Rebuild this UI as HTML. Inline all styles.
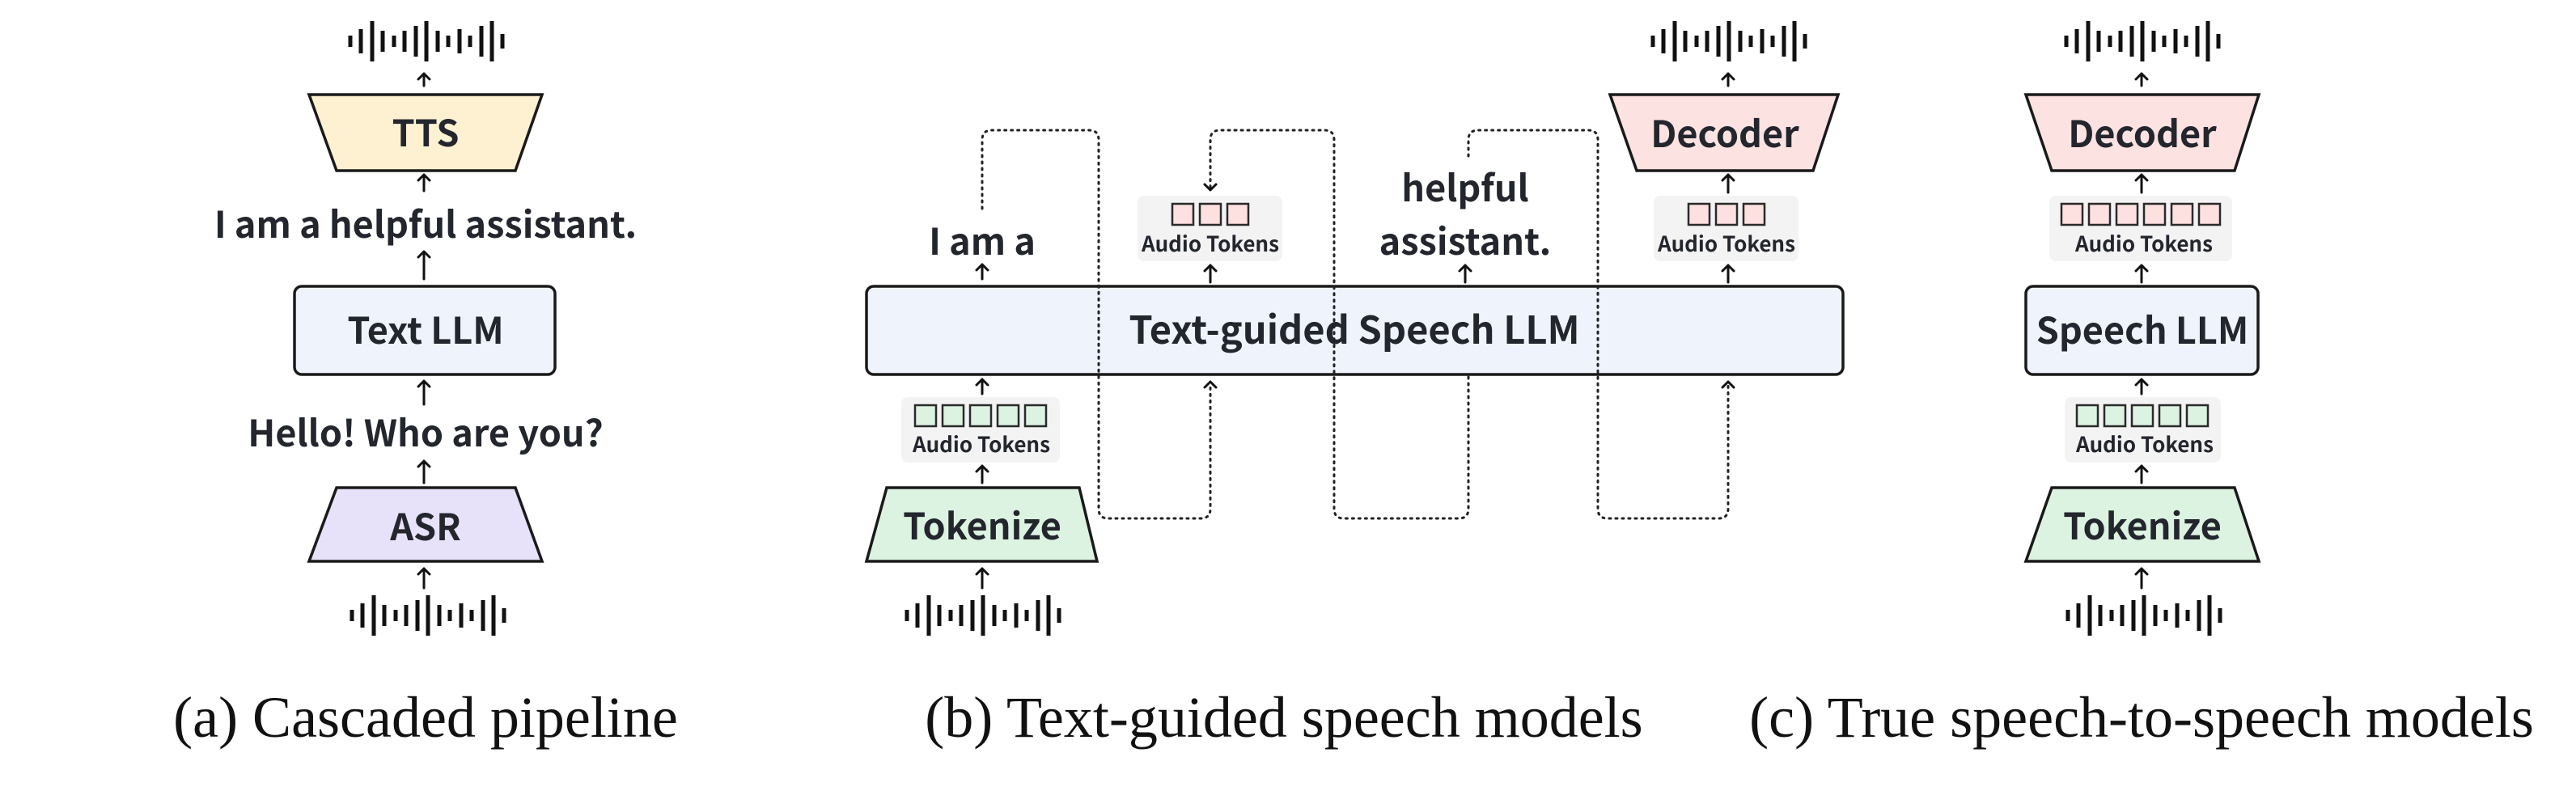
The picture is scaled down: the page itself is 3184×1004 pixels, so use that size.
<!DOCTYPE html>
<html><head><meta charset="utf-8"><style>
html,body{margin:0;padding:0;background:#fff;}
svg{display:block;}
.lb{font-family:"Noto Sans CJK SC","Liberation Sans",sans-serif;font-weight:700;fill:#23262d;text-anchor:middle;}
.cap{font-family:"Liberation Serif",serif;font-size:72px;fill:#111;text-anchor:middle;}
.ar{fill:none;stroke:#111;stroke-width:3;stroke-linecap:round;stroke-linejoin:round;}
.dt{fill:none;stroke:#222;stroke-width:3;stroke-dasharray:2 6;stroke-linecap:round;}
.bx{stroke:#1a1a1a;stroke-width:3.5;}
.sq{stroke:#2a2a2a;stroke-width:2.5;}
</style></head><body>
<svg width="3184" height="1004" viewBox="0 0 3184 1004" xmlns="http://www.w3.org/2000/svg">
<defs>
<g id="wv" stroke="#111" stroke-width="5">
<line x1="3" y1="20" x2="3" y2="34"/><line x1="16" y1="12" x2="16" y2="42"/><line x1="30" y1="2" x2="30" y2="52"/><line x1="43" y1="14" x2="43" y2="40"/><line x1="57" y1="20" x2="57" y2="34"/><line x1="70" y1="14" x2="70" y2="40"/><line x1="84" y1="8" x2="84" y2="46"/><line x1="97" y1="2" x2="97" y2="52"/><line x1="111" y1="14" x2="111" y2="40"/><line x1="124" y1="20" x2="124" y2="34"/><line x1="138" y1="12" x2="138" y2="42"/><line x1="151" y1="20" x2="151" y2="34"/><line x1="165" y1="8" x2="165" y2="46"/><line x1="178" y1="2" x2="178" y2="52"/><line x1="191" y1="18" x2="191" y2="36"/>
</g>
</defs>

<!-- Panel A -->
<use href="#wv" x="430" y="24"/>
<path class="ar" d="M524 106 V91 M517 98 L524 91 L531 98"/>
<polygon class="bx" points="382,117 670,117 637,211 416,211" fill="#fdf1d1"/>
<text class="lb" x="526" y="181" font-size="45">TTS</text>
<path class="ar" d="M524 236 V216 M517 223 L524 216 L531 223"/>
<text class="lb" x="526" y="294" font-size="45">I am a helpful assistant.</text>
<path class="ar" d="M524 345 V311 M517 318 L524 311 L531 318"/>
<rect class="bx" x="364" y="354" width="322" height="109" rx="9" fill="#eef3fc"/>
<text class="lb" x="526" y="425" font-size="45">Text LLM</text>
<path class="ar" d="M524 500 V471 M517 478 L524 471 L531 478"/>
<text class="lb" x="526" y="552" font-size="45">Hello! Who are you?</text>
<path class="ar" d="M524 597 V570 M517 577 L524 570 L531 577"/>
<polygon class="bx" points="416,603 637,603 670,694 382,694" fill="#e8e1fa"/>
<text class="lb" x="526" y="668" font-size="45">ASR</text>
<path class="ar" d="M524 727 V703 M517 710 L524 703 L531 710"/>
<use href="#wv" x="432" y="734"/>
<text class="cap" x="526" y="911">(a) Cascaded pipeline</text>

<!-- Panel B -->
<rect class="bx" x="1071" y="354" width="1207" height="109" rx="9" fill="#eef3fc"/>
<text class="lb" x="1674" y="425" font-size="47">Text-guided Speech LLM</text>

<text class="lb" x="1214" y="315" font-size="45">I am a</text>
<path class="ar" d="M1214 345 V327 M1207 334 L1214 327 L1221 334"/>
<path class="ar" d="M1214 487 V469 M1207 476 L1214 469 L1221 476"/>
<rect x="1114" y="491" width="196" height="81" rx="8" fill="#f3f3f3"/>
<g class="sq" fill="#dcf3e1"><rect x="1131" y="501" width="26" height="26"/><rect x="1165" y="501" width="26" height="26"/><rect x="1199" y="501" width="26" height="26"/><rect x="1233" y="501" width="26" height="26"/><rect x="1267" y="501" width="26" height="26"/></g>
<text class="lb" x="1213" y="559" font-size="26">Audio Tokens</text>
<path class="ar" d="M1214 597 V576 M1207 583 L1214 576 L1221 583"/>
<polygon class="bx" points="1096,603 1334,603 1356,694 1071,694" fill="#dcf3e1"/>
<text class="lb" x="1214" y="667" font-size="45">Tokenize</text>
<path class="ar" d="M1214 727 V703 M1207 710 L1214 703 L1221 710"/>
<use href="#wv" x="1118" y="734"/>

<rect x="1406" y="242" width="179" height="81" rx="8" fill="#f3f3f3"/>
<g class="sq" fill="#fde0e0"><rect x="1449" y="252" width="26" height="26"/><rect x="1483" y="252" width="26" height="26"/><rect x="1517" y="252" width="26" height="26"/></g>
<text class="lb" x="1496" y="311" font-size="26">Audio Tokens</text>
<path class="ar" d="M1496 349 V328 M1489 335 L1496 328 L1503 335"/>

<text class="lb" x="1811" y="249" font-size="45">helpful</text>
<text class="lb" x="1811" y="315" font-size="45">assistant.</text>
<path class="ar" d="M1811 349 V328 M1804 335 L1811 328 L1818 335"/>

<use href="#wv" x="2040" y="24"/>
<path class="ar" d="M2136 106 V91 M2129 98 L2136 91 L2143 98"/>
<polygon class="bx" points="1990,117 2272,117 2241,211 2023,211" fill="#fde2e2"/>
<text class="lb" x="2132" y="182" font-size="45">Decoder</text>
<path class="ar" d="M2136 238 V216 M2129 223 L2136 216 L2143 223"/>
<rect x="2044" y="242" width="179" height="81" rx="8" fill="#f3f3f3"/>
<g class="sq" fill="#fde0e0"><rect x="2087" y="252" width="26" height="26"/><rect x="2121" y="252" width="26" height="26"/><rect x="2155" y="252" width="26" height="26"/></g>
<text class="lb" x="2134" y="311" font-size="26">Audio Tokens</text>
<path class="ar" d="M2136 349 V328 M2129 335 L2136 328 L2143 335"/>

<path class="dt" d="M1214 258 V173 Q1214 161 1226 161 H1346 Q1358 161 1358 173 V629 Q1358 641 1370 641 H1484 Q1496 641 1496 629 V474"/>
<path class="ar" d="M1489 479 L1496 472 L1503 479"/>
<path class="dt" d="M1815 466 V629 Q1815 641 1803 641 H1661 Q1649 641 1649 629 V173 Q1649 161 1637 161 H1508 Q1496 161 1496 173 V232"/>
<path class="ar" d="M1489 228 L1496 235 L1503 228"/>
<path class="dt" d="M1815 193 V173 Q1815 161 1827 161 H1963 Q1975 161 1975 173 V629 Q1975 641 1987 641 H2124 Q2136 641 2136 629 V474"/>
<path class="ar" d="M2129 479 L2136 472 L2143 479"/>
<text class="cap" x="1587" y="911">(b) Text-guided speech models</text>

<!-- Panel C -->
<use href="#wv" x="2551" y="24"/>
<path class="ar" d="M2647 106 V91 M2640 98 L2647 91 L2654 98"/>
<polygon class="bx" points="2504,117 2792,117 2762,211 2536,211" fill="#fde2e2"/>
<text class="lb" x="2648" y="182" font-size="45">Decoder</text>
<path class="ar" d="M2647 238 V216 M2640 223 L2647 216 L2654 223"/>
<rect x="2533" y="242" width="226" height="81" rx="8" fill="#f3f3f3"/>
<g class="sq" fill="#fde0e0"><rect x="2548" y="252" width="26" height="26"/><rect x="2582" y="252" width="26" height="26"/><rect x="2616" y="252" width="26" height="26"/><rect x="2650" y="252" width="26" height="26"/><rect x="2684" y="252" width="26" height="26"/><rect x="2718" y="252" width="26" height="26"/></g>
<text class="lb" x="2650" y="311" font-size="26">Audio Tokens</text>
<path class="ar" d="M2647 349 V328 M2640 335 L2647 328 L2654 335"/>
<rect class="bx" x="2504" y="354" width="287" height="109" rx="9" fill="#eef3fc"/>
<text class="lb" x="2648" y="425" font-size="45">Speech LLM</text>
<path class="ar" d="M2647 487 V469 M2640 476 L2647 469 L2654 476"/>
<rect x="2552" y="491" width="193" height="81" rx="8" fill="#f3f3f3"/>
<g class="sq" fill="#dcf3e1"><rect x="2567" y="501" width="26" height="26"/><rect x="2601" y="501" width="26" height="26"/><rect x="2635" y="501" width="26" height="26"/><rect x="2669" y="501" width="26" height="26"/><rect x="2703" y="501" width="26" height="26"/></g>
<text class="lb" x="2651" y="559" font-size="26">Audio Tokens</text>
<path class="ar" d="M2647 597 V576 M2640 583 L2647 576 L2654 583"/>
<polygon class="bx" points="2536,603 2762,603 2792,694 2504,694" fill="#dcf3e1"/>
<text class="lb" x="2648" y="667" font-size="45">Tokenize</text>
<path class="ar" d="M2647 727 V703 M2640 710 L2647 703 L2654 710"/>
<use href="#wv" x="2553" y="734"/>
<text class="cap" x="2647" y="911">(c) True speech-to-speech models</text>
</svg>
</body></html>
